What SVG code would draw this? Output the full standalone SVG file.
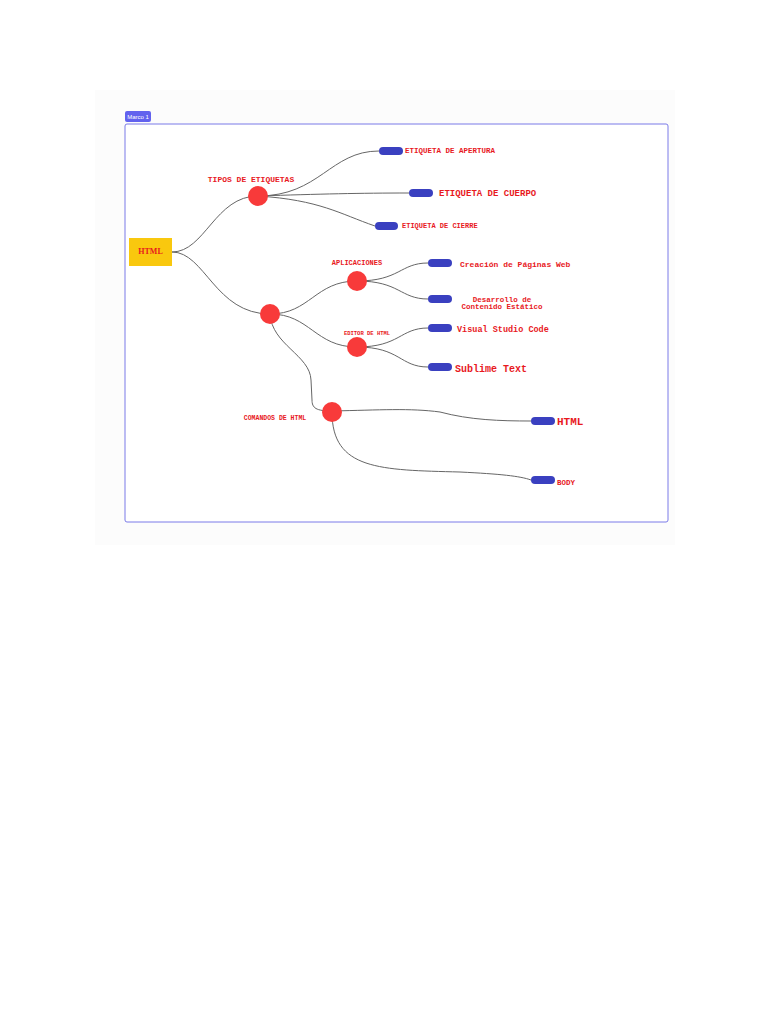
<svg xmlns="http://www.w3.org/2000/svg" width="768" height="1024" viewBox="0 0 768 1024">
<style>
.e{fill:none;stroke:#666;stroke-width:1}
.c{fill:#f83a3a}
.p{fill:#3a40c0}
.t{font-family:"Liberation Mono",monospace;font-weight:bold;fill:#e8191e}
</style>
<rect width="768" height="1024" fill="#fff"/>
<rect x="95" y="90" width="580" height="455" fill="#fcfcfc"/>
<rect x="125" y="124" width="543" height="398" rx="2" fill="#fff" stroke="#7b7be8" stroke-width="1"/>
<rect x="125" y="111" width="26" height="11" rx="2" fill="#6262ee"/>
<text x="138" y="119" font-family="Liberation Sans,sans-serif" font-size="6" fill="#fff" text-anchor="middle">Marco 1</text>
<g id="connectors">
<path class="e" d="M172,252 C205,252 215,196 258,196"/>
<path class="e" d="M172,252 C205,252 215,314 270,314"/>
<path class="e" d="M258,196 C320,196 330,151 379,151"/>
<path class="e" d="M258,196 C320,194 360,193 409,193"/>
<path class="e" d="M258,196 C320,200 340,214 375,226"/>
<path class="e" d="M270,314 C310,314 315,281 357,281"/>
<path class="e" d="M270,314 C310,314 315,347 357,347"/>
<path class="e" d="M357,281 C400,281 400,263 428,263"/>
<path class="e" d="M357,281 C400,281 400,299 428,299"/>
<path class="e" d="M357,347 C400,347 400,328 428,328"/>
<path class="e" d="M357,347 C400,347 400,367 428,367"/>
<path class="e" d="M270,314 C272,345 310,355 311,380 L312,400 C312,408 316,411 332,411"/>
<path class="e" d="M332,411 C380,410 410,408 440,412 C470,420 500,421 531,421"/>
<path class="e" d="M332,412 C332,470 380,470 460,472 C500,474 520,476 531,480"/>
</g>
<g id="n-html"><rect x="129" y="238" width="43" height="28" fill="#f9c80e"/><text x="150.5" y="254" font-family="Liberation Serif,serif" font-weight="bold" font-size="8" fill="#e8191e" text-anchor="middle">HTML</text></g>
<g id="n-tipos"><circle class="c" cx="258" cy="196" r="10"/><text class="t" x="251" y="182" font-size="8" text-anchor="middle">TIPOS DE ETIQUETAS</text></g>
<g id="n-b"><circle class="c" cx="270" cy="314" r="10"/></g>
<g id="n-apps"><circle class="c" cx="357" cy="281" r="10"/><text class="t" x="357" y="265" font-size="7" text-anchor="middle">APLICACIONES</text></g>
<g id="n-editor"><circle class="c" cx="357" cy="347" r="10"/><text class="t" x="367" y="335" font-size="5.5" text-anchor="middle">EDITOR DE HTML</text></g>
<g id="n-cmd"><circle class="c" cx="332" cy="412" r="10"/><text class="t" x="275" y="420" font-size="6.5" text-anchor="middle">COMANDOS DE HTML</text></g>
<g id="p1"><rect class="p" x="379" y="147" width="24" height="8" rx="4"/><text class="t" x="405" y="153" font-size="7.5" font-family="Liberation Sans,sans-serif">ETIQUETA DE APERTURA</text></g>
<g id="p2"><rect class="p" x="409" y="189" width="24" height="8" rx="4"/><text class="t" x="439" y="196" font-size="9">ETIQUETA DE CUERPO</text></g>
<g id="p3"><rect class="p" x="375" y="222" width="23" height="8" rx="4"/><text class="t" x="402" y="228" font-size="7">ETIQUETA DE CIERRE</text></g>
<g id="p4"><rect class="p" x="428" y="259" width="24" height="8" rx="4"/><text class="t" x="460" y="267" font-size="8">Creación de Páginas Web</text></g>
<g id="p5"><rect class="p" x="428" y="295" width="24" height="8" rx="4"/><text class="t" x="502" y="302" font-size="7.5" text-anchor="middle">Desarrollo de</text><text class="t" x="502" y="309" font-size="7.5" text-anchor="middle">Contenido Estático</text></g>
<g id="p6"><rect class="p" x="428" y="324" width="24" height="8" rx="4"/><text class="t" x="457" y="332" font-size="8.5">Visual Studio Code</text></g>
<g id="p7"><rect class="p" x="428" y="363" width="24" height="8" rx="4"/><text class="t" x="455" y="372" font-size="10">Sublime Text</text></g>
<g id="p8"><rect class="p" x="531" y="417" width="24" height="8" rx="4"/><text class="t" x="557" y="425" font-size="11">HTML</text></g>
<g id="p9"><rect class="p" x="531" y="476" width="24" height="8" rx="4"/><text class="t" x="557" y="485" font-size="7.5">BODY</text></g>
</svg>
